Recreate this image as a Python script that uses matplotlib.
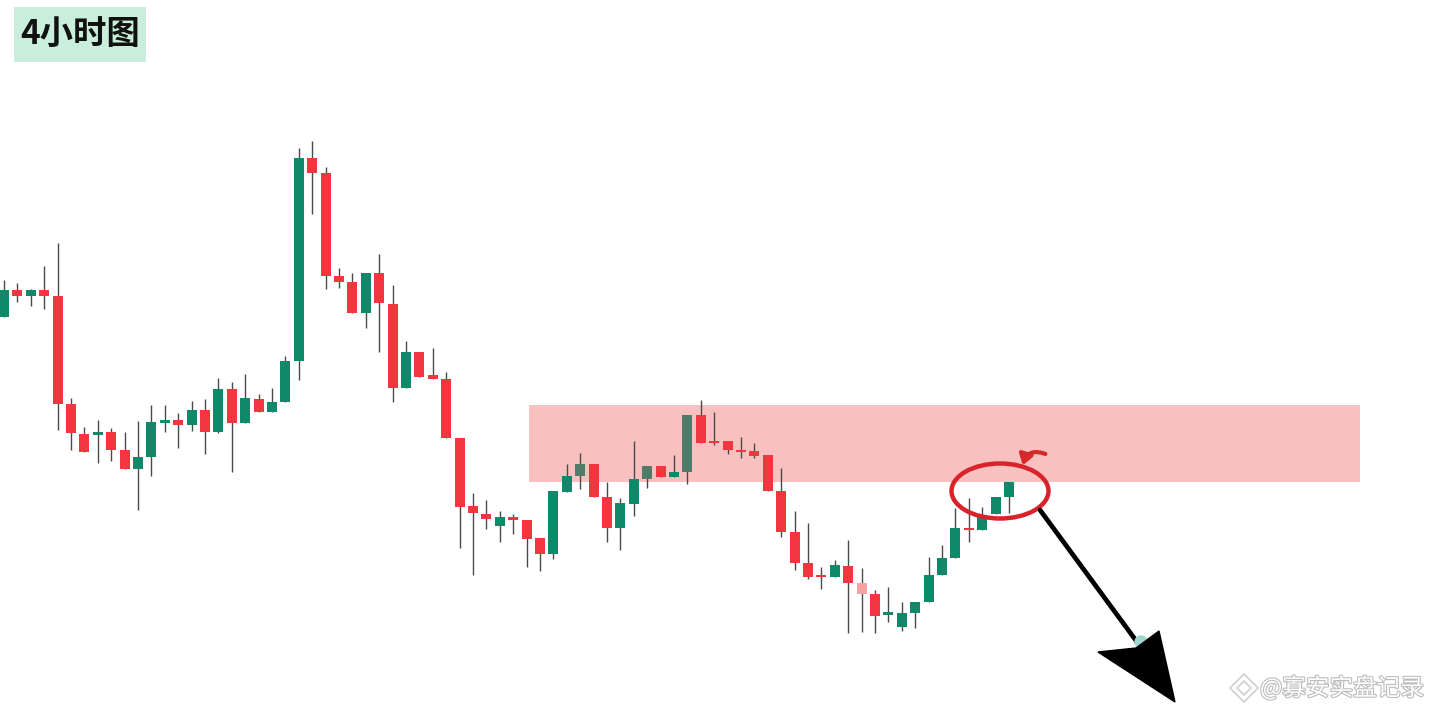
import numpy as np
import matplotlib
matplotlib.use("Agg")
import matplotlib.pyplot as plt
from matplotlib.patches import Rectangle, Ellipse, Polygon, Circle
import matplotlib.patheffects as pe

plt.rcParams["font.family"] = ["Noto Sans CJK SC", "DejaVu Sans"]

# 4h candles (arbitrary price units)
opens = [397, 424, 418, 424, 418, 310, 280, 279, 282, 264,
         245, 257, 291, 294, 289, 304, 282, 325, 291, 315,
         302, 312, 353, 556, 541, 438, 432, 401, 441, 410,
         326, 362, 339, 335, 276, 208, 200, 188, 197, 194,
         176, 160, 222, 238, 250, 217, 186, 210, 235, 248,
         237, 242, 299, 273, 273, 264, 263, 259, 223, 182,
         151, 138, 137, 148, 131, 120, 99, 87, 101, 112,
         139, 156, 186, 184, 200, 217]
highs = [434, 431, 425, 448, 471, 316, 287, 294, 286, 282,
         293, 309, 309, 301, 313, 315, 336, 332, 340, 320,
         326, 358, 566, 573, 547, 446, 441, 441, 460, 429,
         373, 362, 366, 342, 276, 221, 214, 203, 200, 194,
         176, 223, 250, 261, 250, 232, 216, 273, 248, 248,
         259, 299, 314, 302, 273, 277, 271, 259, 246, 203,
         191, 147, 154, 174, 146, 124, 127, 112, 112, 157,
         169, 206, 216, 207, 217, 232]
lows = [397, 412, 408, 405, 284, 264, 262, 251, 253, 245,
        204, 238, 282, 266, 283, 260, 281, 242, 291, 302,
        302, 312, 334, 500, 425, 426, 401, 386, 362, 312,
        326, 337, 335, 276, 166, 139, 185, 172, 180, 147,
        143, 155, 222, 225, 217, 172, 164, 198, 226, 237,
        237, 230, 271, 269, 260, 256, 256, 223, 177, 144,
        135, 125, 137, 81, 82, 81, 92, 83, 86, 112,
        139, 156, 172, 184, 200, 201]
closes = [424, 418, 424, 418, 310, 281, 262, 282, 264, 245,
          257, 292, 294, 289, 304, 282, 325, 291, 316, 302,
          312, 353, 556, 541, 438, 432, 401, 441, 411, 326,
          362, 337, 335, 276, 207, 201, 195, 197, 194, 175,
          160, 223, 238, 250, 217, 186, 211, 235, 248, 237,
          242, 299, 271, 271, 264, 262, 258, 223, 182, 151,
          137, 137, 149, 131, 120, 98, 102, 101, 112, 139,
          156, 186, 184, 199, 217, 232]

# resistance zone (price range) and the first/last candle it spans
zone_lo, zone_hi = 232, 309
zone_from, zone_to = 39.2, 101.2

title = "4小时图"
watermark = "@寡安实盘记录"

UP = "#10896b"
UP_DULL = "#4f7c69"
DOWN = "#f2363f"

W, H = 1440, 714
fig = plt.figure(figsize=(W / 100, H / 100), dpi=100)
fig.patch.set_facecolor("white")

# candles
ax = fig.add_axes([0, 0, 1, 1])
step = 13.4
ax.set_xlim(-4 / step, (W - 4) / step)
ax.set_ylim(0, H)
ax.axis("off")

o = np.array(opens, float)
c = np.array(closes, float)
hi = np.array(highs, float)
lo = np.array(lows, float)
x = np.arange(len(o))
up = c >= o
cols = np.where(up, UP, DOWN).astype(object)
cols[64] = "#f7a3a6"  # faded candle
for i in (43, 48, 51):  # greens sitting in the zone look greyish
    cols[i] = UP_DULL

ax.add_patch(Rectangle((zone_from, zone_lo), zone_to - zone_from, zone_hi - zone_lo,
                       facecolor="#f9c0c0", lw=0, zorder=0))
ax.vlines(x, lo, hi, color="#4a4a4a", lw=1.0, zorder=1)
bottom = np.minimum(o, c)
height = np.maximum(np.abs(c - o), 2)
ax.bar(x, height, bottom=bottom, width=0.74, color=list(cols), zorder=2)

# annotation layer in pixel coordinates
ov = fig.add_axes([0, 0, 1, 1])
ov.set_xlim(0, W)
ov.set_ylim(H, 0)
ov.axis("off")
ov.patch.set_alpha(0)

# red circle + little hook arrow
ov.add_patch(Ellipse((1000, 491), 97, 55, fill=False, ec="#d8232a", lw=3.2))
ov.annotate("", xy=(1022, 468), xytext=(1048, 455),
            arrowprops=dict(arrowstyle="-|>,head_length=0.6,head_width=0.4",
                            color="#d42a2a", lw=3,
                            connectionstyle="arc3,rad=0.6"))

# black down arrow
ov.plot([1040, 1140], [510, 646], color="black", lw=3.4, solid_capstyle="round")
ov.add_patch(Circle((1141, 642), 6, color="#9fd8d0", zorder=3))
ov.add_patch(Polygon([(1175, 702), (1098, 652), (1136, 648), (1159, 631)],
                     closed=True, color="black", zorder=4))

# title box
ov.add_patch(Rectangle((14, 7), 132, 55, facecolor="#c9efdc", lw=0))
ov.text(80, 35, title, fontsize=24, fontweight="bold", color="#111111",
        ha="center", va="center")

# watermark
for s in (14, 7):
    ov.plot([1244], [688], marker="D", ms=s, mfc="none", mec="#cfcfcf", mew=1.2)
ov.text(1260, 688, watermark, fontsize=17, color="white", ha="left", va="center",
        path_effects=[pe.withStroke(linewidth=1.6, foreground="#bdbdbd")])

fig.savefig("out.png", dpi=100, facecolor="white")
